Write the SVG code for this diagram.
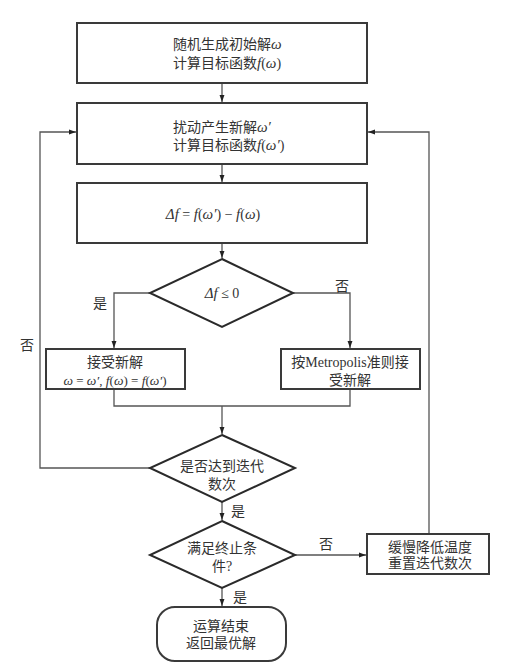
<svg xmlns="http://www.w3.org/2000/svg" width="505" height="667" viewBox="0 0 505 667">
<style>
.box{fill:#fff;stroke:#3a3a3a;stroke-width:2}
.dia{fill:#fff;stroke:#2a2a2a;stroke-width:2}
.ln{fill:none;stroke:#555;stroke-width:1.3}
text{font-family:"Liberation Serif","Noto Sans CJK SC",serif;font-size:14px;fill:#333}
.m{text-anchor:middle}
.it{font-style:italic;font-size:15px}
</style>
<defs>
<marker id="ar" viewBox="0 0 10 10" refX="10" refY="5" markerWidth="7" markerHeight="7" markerUnits="userSpaceOnUse" orient="auto">
<path d="M0,1.5 L10,5 L0,8.5 Z" fill="#222"/>
</marker>
</defs>
<rect width="505" height="667" fill="#fff"/>
<g id="connectors">
<line class="ln" x1="222" y1="84" x2="222" y2="102" marker-end="url(#ar)"/>
<line class="ln" x1="222" y1="165" x2="222" y2="182" marker-end="url(#ar)"/>
<line class="ln" x1="222" y1="244" x2="222" y2="258" marker-end="url(#ar)"/>
<polyline class="ln" points="150,293 114,293 114,348" marker-end="url(#ar)"/>
<polyline class="ln" points="293,293 350,293 350,348" marker-end="url(#ar)"/>
<polyline class="ln" points="114,390 114,406 350,406 350,390"/>
<line class="ln" x1="222" y1="406" x2="222" y2="434" marker-end="url(#ar)"/>
<polyline class="ln" points="150,468 40,468 40,132 76,132" marker-end="url(#ar)"/>
<line class="ln" x1="222" y1="502" x2="222" y2="520" marker-end="url(#ar)"/>
<line class="ln" x1="295" y1="555" x2="366" y2="555" marker-end="url(#ar)"/>
<polyline class="ln" points="429,534 429,132 368,132" marker-end="url(#ar)"/>
<line class="ln" x1="222" y1="588" x2="222" y2="606" marker-end="url(#ar)"/>
<text x="100" y="308" class="m">是</text>
<text x="342" y="291" class="m">否</text>
<text x="27" y="350" class="m">否</text>
<text x="238" y="516" class="m">是</text>
<text x="326" y="549" class="m">否</text>
<text x="240" y="602" class="m">是</text>
</g>
<g id="init">
<rect class="box" x="77" y="23" width="290" height="60"/>
<text x="173" y="49">随机生成初始解<tspan class="it">ω</tspan></text>
<text x="173" y="68">计算目标函数<tspan class="it">f</tspan>(<tspan class="it">ω</tspan>)</text>
</g>
<g id="perturb">
<rect class="box" x="77" y="103" width="290" height="61"/>
<text x="173" y="132">扰动产生新解<tspan class="it">ω′</tspan></text>
<text x="173" y="150">计算目标函数<tspan class="it">f</tspan>(<tspan class="it">ω′</tspan>)</text>
</g>
<g id="delta">
<rect class="box" x="77" y="183" width="290" height="60"/>
<text x="213" y="219" class="m"><tspan class="it">Δf</tspan> = <tspan class="it">f</tspan>(<tspan class="it">ω′</tspan>) − <tspan class="it">f</tspan>(<tspan class="it">ω</tspan>)</text>
</g>
<g id="cond1">
<polygon class="dia" points="222,259 293,293 222,327 150,293"/>
<text x="222" y="298" class="m"><tspan class="it">Δf</tspan> ≤ 0</text>
</g>
<g id="accept">
<rect class="box" x="46" y="349" width="139" height="40"/>
<text x="115" y="367" class="m">接受新解</text>
<text x="115" y="385" class="m" style="font-size:13px"><tspan class="it" style="font-size:13.5px">ω</tspan> = <tspan class="it" style="font-size:13.5px">ω′</tspan>, <tspan class="it" style="font-size:13.5px">f</tspan>(<tspan class="it" style="font-size:13.5px">ω</tspan>) = <tspan class="it" style="font-size:13.5px">f</tspan>(<tspan class="it" style="font-size:13.5px">ω′</tspan>)</text>
</g>
<g id="metropolis">
<rect class="box" x="281" y="349" width="139" height="40"/>
<text x="350" y="367" class="m">按Metropolis准则接</text>
<text x="350" y="385" class="m">受新解</text>
</g>
<g id="cond2">
<polygon class="dia" points="222,435 295,468 222,502 150,468"/>
<text x="222" y="471" class="m">是否达到迭代</text>
<text x="222" y="489" class="m">数次</text>
</g>
<g id="cond3">
<polygon class="dia" points="222,521 295,555 222,588 150,555"/>
<text x="222" y="553" class="m">满足终止条</text>
<text x="222" y="571" class="m">件?</text>
</g>
<g id="cool">
<rect class="box" x="367" y="534" width="122" height="40"/>
<text x="430" y="552" class="m">缓慢降低温度</text>
<text x="430" y="568" class="m">重置迭代数次</text>
</g>
<g id="end">
<rect class="box" x="157" y="607" width="129" height="54" rx="18" ry="18"/>
<text x="221" y="631" class="m">运算结束</text>
<text x="221" y="648" class="m">返回最优解</text>
</g>
</svg>
